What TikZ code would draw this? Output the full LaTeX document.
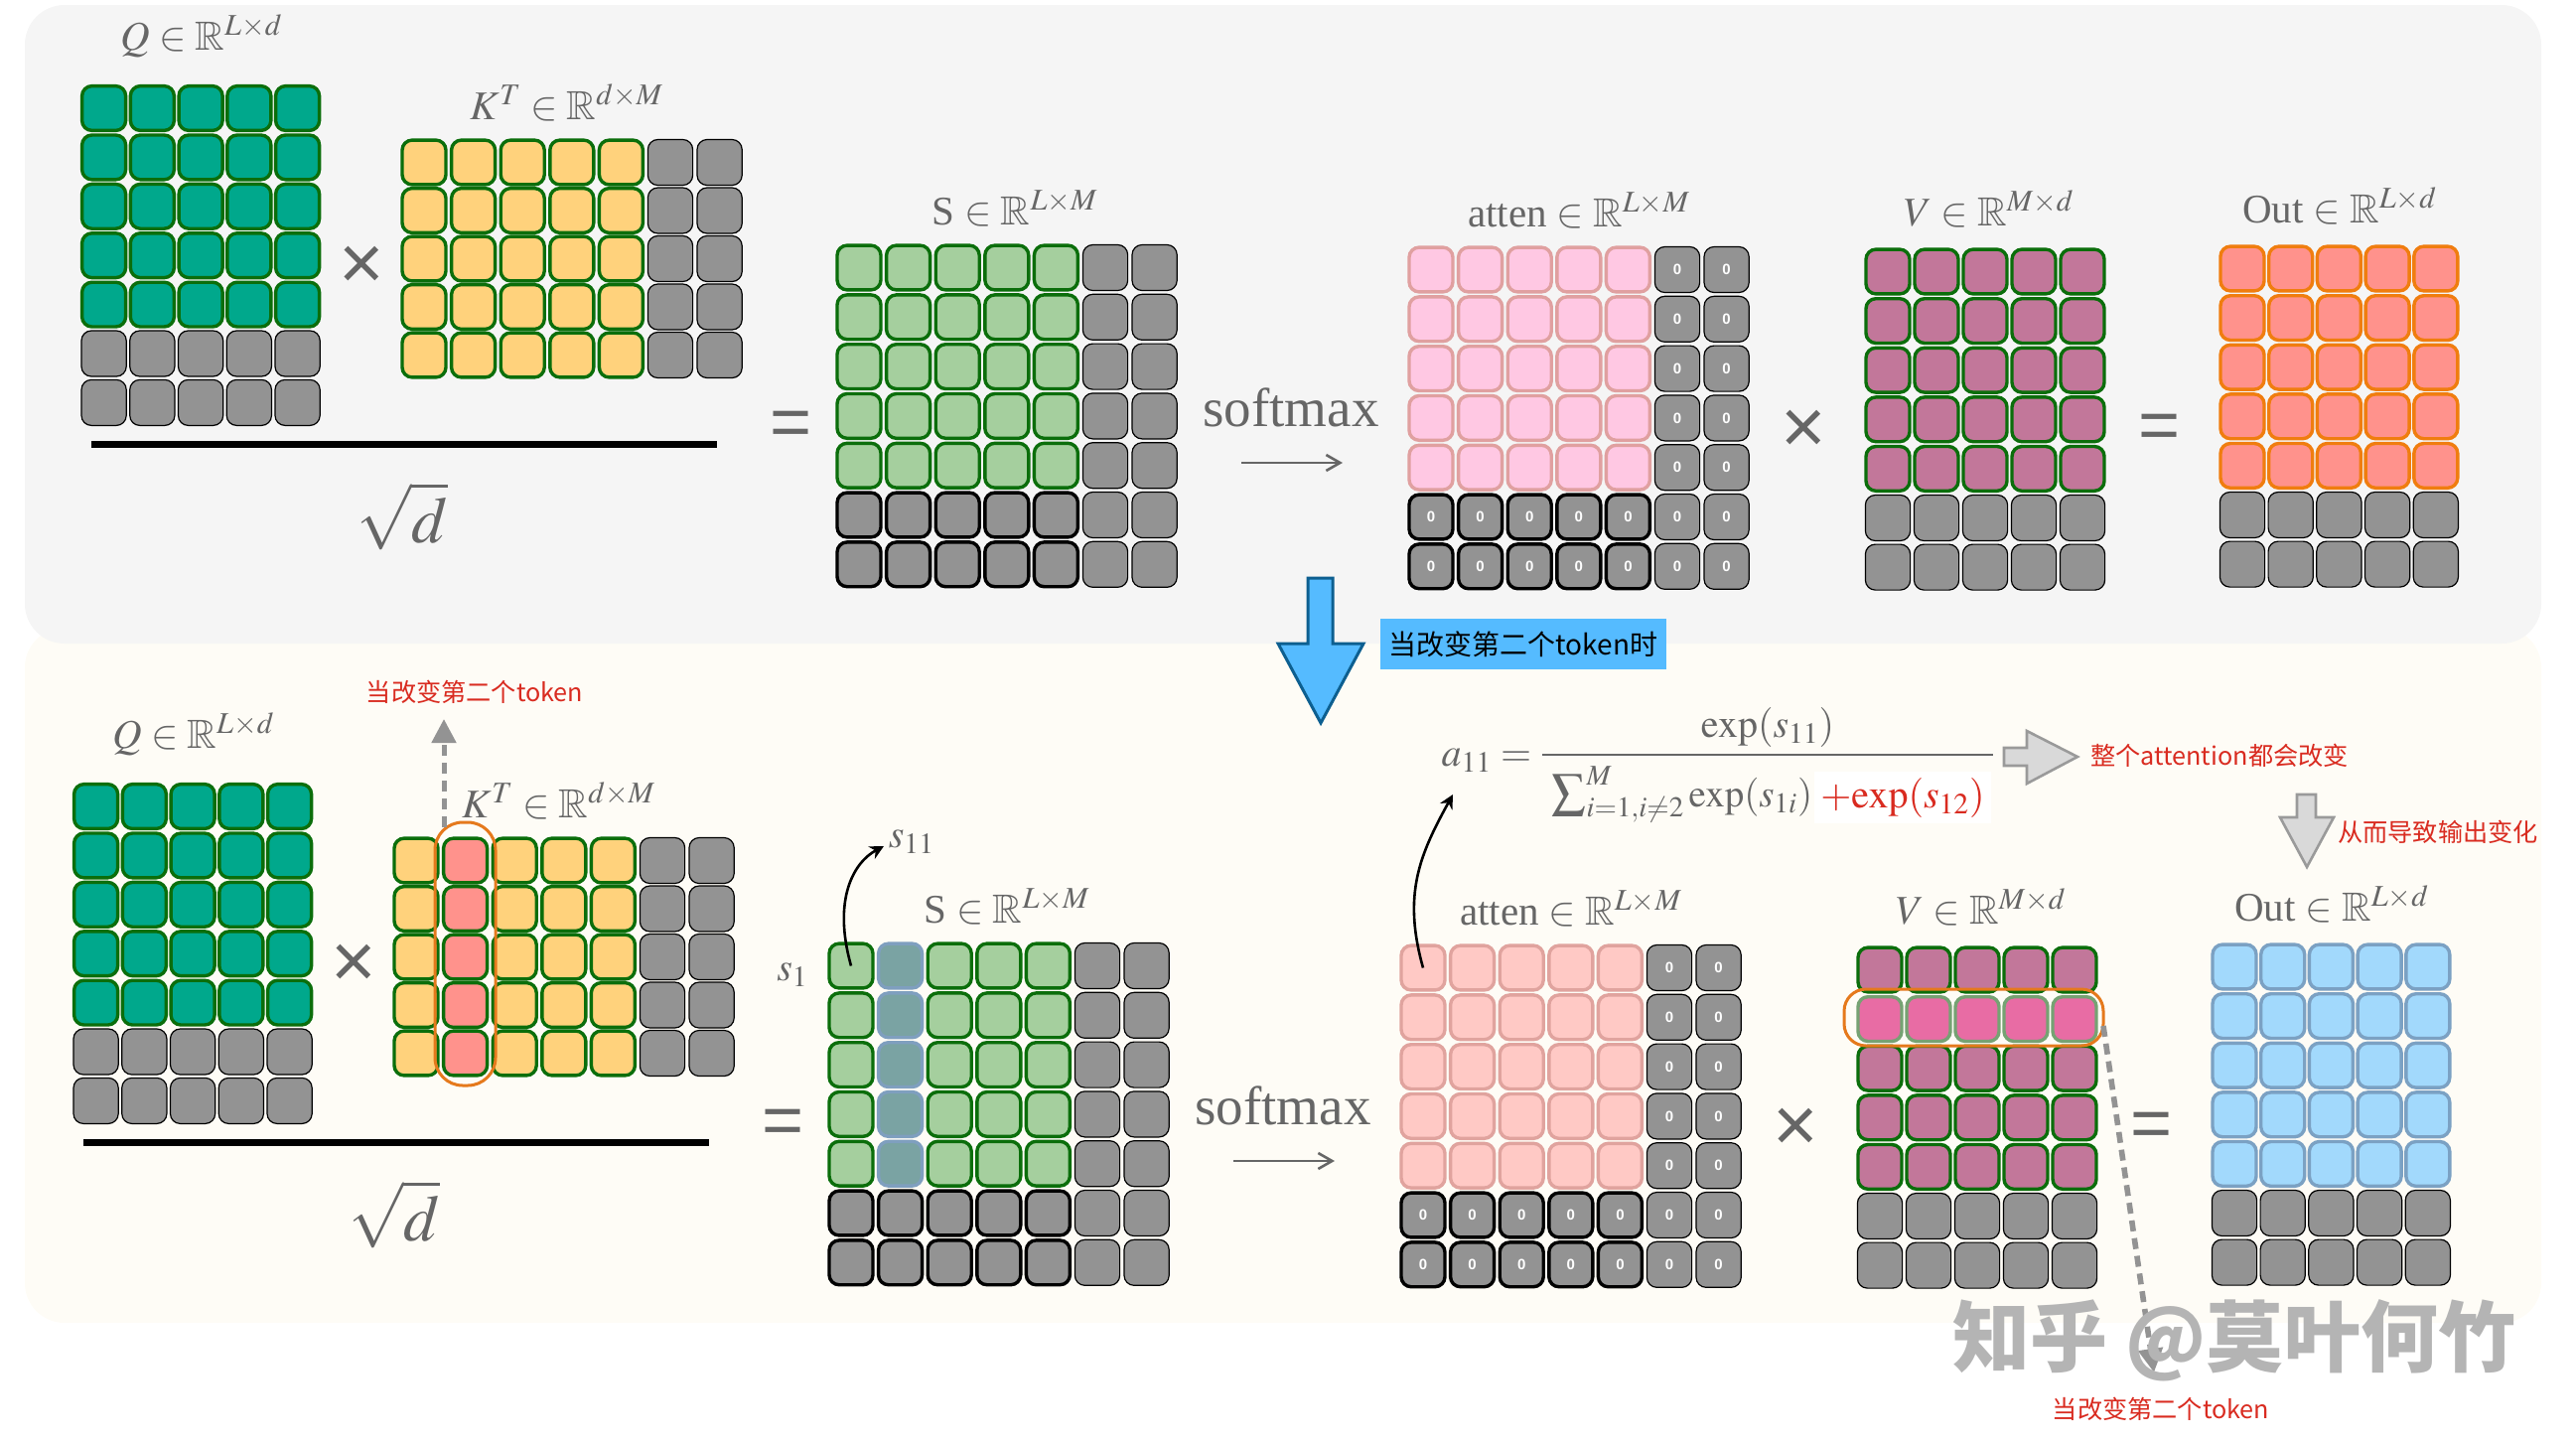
\documentclass[tikz,border=0pt]{standalone}
\usepackage{amssymb}
\usepackage{mathptmx}
\usepackage{fontspec}
\setmainfont{Liberation Serif}
\setsansfont{Liberation Sans}
\newfontfamily\cjk{Noto Sans CJK SC}
\usetikzlibrary{arrows.meta}
\definecolor{labelgray}{HTML}{666666}
\definecolor{paneltop}{HTML}{F5F5F5}
\definecolor{panellow}{HTML}{FEFCF6}
\definecolor{cellgreen}{HTML}{0B6E0B}
\definecolor{cellgray}{HTML}{939393}
\definecolor{redtext}{HTML}{D92B20}
\definecolor{boxorange}{HTML}{E5791C}
\definecolor{skyblue}{HTML}{55BBFF}
\definecolor{deepblue}{HTML}{0D5F90}
\definecolor{tealfill}{HTML}{00A88C}
\definecolor{yellowfill}{HTML}{FFD27C}
\definecolor{salmonfill}{HTML}{FF928C}
\definecolor{leaffill}{HTML}{A5CF9E}
\definecolor{slatefill}{HTML}{7AA3A3}
\definecolor{slateline}{HTML}{7F9FBF}
\definecolor{pinkfill}{HTML}{FFC8E3}
\definecolor{pinkline}{HTML}{E0A0A0}
\definecolor{rosefill}{HTML}{FFC9C5}
\definecolor{roseline}{HTML}{E0A39E}
\definecolor{plumfill}{HTML}{C2779A}
\definecolor{hotfill}{HTML}{E86CA4}
\definecolor{hotline}{HTML}{76A273}
\definecolor{coralline}{HTML}{F07D0F}
\definecolor{icefill}{HTML}{A2D9FC}
\definecolor{iceline}{HTML}{7BA1C3}
\definecolor{palefill}{HTML}{D9D9D9}
\definecolor{paleline}{HTML}{9A9A9A}
\newcommand{\cellblock}[9][]{%
  \foreach \r in {#7} \foreach \c in {#8}
    \node[#9] (#2-\r-\c) at ({#3+(\c-1)*#5},{#4+(\r-1)*#6}) {#1};
}
\tikzset{
  cellbox/.style={rectangle,rounded corners=5pt,inner sep=0pt,minimum width=22pt,minimum height=22.4pt,line width=1.7pt},
  graycell/.style={cellbox,fill=cellgray,draw=black,line width=0.6pt,minimum width=22.6pt,minimum height=23pt},
  zerocell/.style={graycell,text=white,font=\sffamily\bfseries\fontsize{7.5}{8}\selectfont},
  blackcell/.style={zerocell,line width=1.7pt,minimum width=22pt,minimum height=22.4pt},
  tealcell/.style={cellbox,fill=tealfill,draw=cellgreen},
  yellowcell/.style={cellbox,fill=yellowfill,draw=cellgreen},
  redcell/.style={cellbox,fill=salmonfill,draw=cellgreen},
  greencell/.style={cellbox,fill=leaffill,draw=cellgreen},
  slatecell/.style={cellbox,fill=slatefill,draw=slateline},
  pinkcell/.style={cellbox,fill=pinkfill,draw=pinkline},
  rosecell/.style={cellbox,fill=rosefill,draw=roseline},
  plumcell/.style={cellbox,fill=plumfill,draw=cellgreen},
  hotcell/.style={cellbox,fill=hotfill,draw=hotline},
  orangecell/.style={cellbox,fill=salmonfill,draw=coralline},
  bluecell/.style={cellbox,fill=icefill,draw=iceline},
  mathlabel/.style={text=labelgray,inner sep=0pt,font=\fontsize{20.5}{24}\selectfont},
  timessign/.style={text=labelgray,inner sep=0pt,font=\sffamily\fontsize{39}{44}\selectfont},
  equalsign/.style={text=labelgray,inner sep=0pt,font=\sffamily\fontsize{36}{40}\selectfont},
  redlabel/.style={text=redtext,inner sep=0pt,font=\cjk\fontsize{12.6}{15}\selectfont},
  panel/.style={rectangle,rounded corners=20pt,inner sep=0pt,minimum width=1267pt},
  softarrow/.style={draw=labelgray,line width=1.3pt,-{Straight Barb[length=7pt,width=8pt]}},
  dasharrow/.style={draw=cellgray,line width=2.5pt,dash pattern=on 5.5pt off 3.5pt,-{Triangle[length=12pt,width=12pt]}},
  curvearrow/.style={draw=black,line width=1.3pt,-{Stealth[length=7pt,width=7pt]}},
  orangebox/.style={rectangle,draw=boxorange,line width=1.5pt,inner sep=0pt},
  hollowarrow/.style={fill=palefill,draw=paleline,line width=1.3pt}
}
\begin{document}
\begin{tikzpicture}[x=0.5pt,y=-0.5pt]
  \useasboundingbox (0,0) rectangle (2594,1452);
  \node[panel,fill=panellow,minimum height=350pt] (lowpanel) at (1292,982) {};
  \node[panel,fill=paneltop,minimum height=321.5pt] (toppanel) at (1292,326.5) {};

  % upper panel
  \cellblock{q}{104.6}{109}{48.75}{49.4}{1,...,5}{1,...,5}{tealcell}
  \cellblock{q}{104.6}{109}{48.75}{49.4}{6,7}{1,...,5}{graycell}
  \cellblock{k}{427}{163.5}{49.6}{48.5}{1,...,5}{1,...,5}{yellowcell}
  \cellblock{k}{427}{163.5}{49.6}{48.5}{1,...,5}{6,7}{graycell}
  \cellblock{s}{865}{269.5}{49.6}{49.8}{1,...,5}{1,...,5}{greencell}
  \cellblock{s}{865}{269.5}{49.6}{49.8}{1,...,5}{6,7}{graycell}
  \cellblock{s}{865}{269.5}{49.6}{49.8}{6,7}{1,...,5}{blackcell}
  \cellblock{s}{865}{269.5}{49.6}{49.8}{6,7}{6,7}{graycell}
  \cellblock{a}{1441}{271.5}{49.6}{49.8}{1,...,5}{1,...,5}{pinkcell}
  \cellblock[0]{a}{1441}{271.5}{49.6}{49.8}{1,...,7}{6,7}{zerocell}
  \cellblock[0]{a}{1441}{271.5}{49.6}{49.8}{6,7}{1,...,5}{blackcell}
  \cellblock{v}{1901}{273.5}{49}{49.6}{1,...,5}{1,...,5}{plumcell}
  \cellblock{v}{1901}{273.5}{49}{49.6}{6,7}{1,...,5}{graycell}
  \cellblock{o}{2258}{270.5}{48.7}{49.6}{1,...,5}{1,...,5}{orangecell}
  \cellblock{o}{2258}{270.5}{48.7}{49.6}{6,7}{1,...,5}{graycell}

  \node[mathlabel] (qlab) at (203,36) {$Q\in\mathbb{R}^{L\times d}$};
  \node[mathlabel] (klab) at (571,103) {$K^{T}\in\mathbb{R}^{d\times M}$};
  \node[mathlabel] (slab) at (1022,210) {S $\in\mathbb{R}^{L\times M}$};
  \node[mathlabel] (alab) at (1590,212) {atten $\in\mathbb{R}^{L\times M}$};
  \node[mathlabel] (vlab) at (2003,210) {$V\in\mathbb{R}^{M\times d}$};
  \node[mathlabel] (olab) at (2356,207) {Out $\in\mathbb{R}^{L\times d}$};
  \node[timessign] (times1) at (364,270) {×};
  \node[equalsign] (eq1) at (797,432) {=};
  \node[timessign] (times2) at (1816,435) {×};
  \node[equalsign] (eq2) at (2174,435) {=};
  \node[mathlabel,font=\fontsize{27.5}{30}\selectfont] (soft) at (1300,410) {softmax};
  \coordinate (softl) at (1250,466);
  \coordinate (softr) at (1352,466);
  \draw[softarrow] (softl) -- (softr);
  \coordinate (barl) at (92,447);
  \coordinate (barr) at (722,447);
  \draw[black,line width=3.5pt] (barl) -- (barr);
  \node[mathlabel,font=\fontsize{33}{38}\selectfont] (root) at (405,520) {$\sqrt{d}$};

  % lower panel
  \begin{scope}[shift={(-8,703)}]
    \cellblock{qb}{104.6}{109}{48.75}{49.4}{1,...,5}{1,...,5}{tealcell}
    \cellblock{qb}{104.6}{109}{48.75}{49.4}{6,7}{1,...,5}{graycell}
    \cellblock{kb}{427}{163.5}{49.6}{48.5}{1,...,5}{1,3,4,5}{yellowcell}
    \cellblock{kb}{427}{163.5}{49.6}{48.5}{1,...,5}{2}{redcell}
    \cellblock{kb}{427}{163.5}{49.6}{48.5}{1,...,5}{6,7}{graycell}
    \cellblock{sb}{865}{269.5}{49.6}{49.8}{1,...,5}{1,3,4,5}{greencell}
    \cellblock{sb}{865}{269.5}{49.6}{49.8}{1,...,5}{2}{slatecell}
    \cellblock{sb}{865}{269.5}{49.6}{49.8}{1,...,5}{6,7}{graycell}
    \cellblock{sb}{865}{269.5}{49.6}{49.8}{6,7}{1,...,5}{blackcell}
    \cellblock{sb}{865}{269.5}{49.6}{49.8}{6,7}{6,7}{graycell}
    \cellblock{ab}{1441}{271.5}{49.6}{49.8}{1,...,5}{1,...,5}{rosecell}
    \cellblock[0]{ab}{1441}{271.5}{49.6}{49.8}{1,...,7}{6,7}{zerocell}
    \cellblock[0]{ab}{1441}{271.5}{49.6}{49.8}{6,7}{1,...,5}{blackcell}
    \cellblock{vb}{1901}{273.5}{49}{49.6}{1,3,4,5}{1,...,5}{plumcell}
    \cellblock{vb}{1901}{273.5}{49}{49.6}{2}{1,...,5}{hotcell}
    \cellblock{vb}{1901}{273.5}{49}{49.6}{6,7}{1,...,5}{graycell}
    \cellblock{ob}{2258}{270.5}{48.7}{49.6}{1,...,5}{1,...,5}{bluecell}
    \cellblock{ob}{2258}{270.5}{48.7}{49.6}{6,7}{1,...,5}{graycell}

    \node[mathlabel] (qblab) at (203,36) {$Q\in\mathbb{R}^{L\times d}$};
    \node[mathlabel] (kblab) at (571,103) {$K^{T}\in\mathbb{R}^{d\times M}$};
    \node[mathlabel] (sblab) at (1022,210) {S $\in\mathbb{R}^{L\times M}$};
    \node[mathlabel] (ablab) at (1590,212) {atten $\in\mathbb{R}^{L\times M}$};
    \node[mathlabel] (vblab) at (2003,210) {$V\in\mathbb{R}^{M\times d}$};
    \node[mathlabel] (oblab) at (2356,207) {Out $\in\mathbb{R}^{L\times d}$};
    \node[timessign] (times3) at (364,270) {×};
    \node[equalsign] (eq3) at (797,432) {=};
    \node[timessign] (times4) at (1816,435) {×};
    \node[equalsign] (eq4) at (2174,435) {=};
    \node[mathlabel,font=\fontsize{27.5}{30}\selectfont] (softb) at (1300,410) {softmax};
    \coordinate (softbl) at (1250,466);
    \coordinate (softbr) at (1352,466);
    \draw[softarrow] (softbl) -- (softbr);
    \coordinate (barbl) at (92,447);
    \coordinate (barbr) at (722,447);
    \draw[black,line width=3.5pt] (barbl) -- (barbr);
    \node[mathlabel,font=\fontsize{33}{38}\selectfont] (rootb) at (405,520) {$\sqrt{d}$};
  \end{scope}

  % change marks
  \node[orangebox,rounded corners=14pt,minimum width=30.5pt,minimum height=132.5pt] (kcol) at (468.5,960.5) {};
  \node[orangebox,rounded corners=11pt,minimum width=130.5pt,minimum height=28.5pt] (vrow) at (1987.5,1024.5) {};
  \coordinate (kfoot) at (447,833);
  \coordinate (ktip) at (447,724);
  \draw[dasharrow] (kfoot) -- (ktip);
  \coordinate (vfoot) at (2118,1033);
  \coordinate (vtip) at (2169,1382);
  \draw[dasharrow,line width=2.8pt] (vfoot) -- (vtip);
  \node[redlabel] (up1) at (478,697) {当改变第二个token};
  \node[redlabel] (up2) at (2176,1419) {当改变第二个token};

  % change arrow
  \draw[fill=skyblue,draw=deepblue,line width=1.5pt] (1317,582) -- (1342,582) -- (1342,648) -- (1373,648) -- (1330,728) -- (1287,648) -- (1317,648) -- cycle;
  \node[fill=skyblue,inner sep=0pt,minimum width=144pt,minimum height=25.5pt,font=\cjk\fontsize{14}{16}\selectfont] (bluelab) at (1534,648.5) {当改变第二个token时};

  % formula
  \node[mathlabel,font=\fontsize{20}{24}\selectfont] (a11) at (1497,766) {$a_{11}=$};
  \node[mathlabel,font=\fontsize{20}{24}\selectfont] (num) at (1780,732) {$\mathrm{exp}(s_{11})$};
  \coordinate (fracl) at (1553,760);
  \coordinate (fracr) at (2007,760);
  \draw[labelgray,line width=1.3pt] (fracl) -- (fracr);
  \node[mathlabel,font=\fontsize{19.5}{24}\selectfont] (den) at (1694,800) {$\mathop{\scalebox{1.25}{$\sum$}}\nolimits_{i=1,i\neq 2}^{M}\mathrm{exp}(s_{1i})$};
  \node[mathlabel,text=redtext,fill=white,inner sep=3pt,font=\fontsize{20}{24}\selectfont] (dred) at (1916,803) {$+\mathrm{exp}(s_{12})$};
  \node[mathlabel,font=\fontsize{20}{24}\selectfont] (s11) at (918,848) {$s_{11}$};
  \node[mathlabel,font=\fontsize{20}{24}\selectfont] (s1) at (798,982) {$s_{1}$};
  \coordinate (s11tip) at (890,852);
  \coordinate (a11tip) at (1463,800);
  \draw[curvearrow] (sb-1-1.center) .. controls (838,905) and (860,868) .. (s11tip);
  \draw[curvearrow] (ab-1-1.center) .. controls (1412,900) and (1430,860) .. (a11tip);

  \draw[hollowarrow] (2018,753) -- (2041,753) -- (2041,736) -- (2092,762) -- (2041,789) -- (2041,771) -- (2018,771) -- cycle;
  \node[redlabel] (allchange) at (2235,761) {整个attention都会改变};
  \draw[hollowarrow] (2313,800) -- (2332,800) -- (2332,823) -- (2350,823) -- (2323,873) -- (2296,823) -- (2313,823) -- cycle;
  \node[redlabel] (outchange) at (2455,838) {从而导致输出变化};

  \node[text=cellgray!70,inner sep=0pt,font=\cjk\bfseries\fontsize{39}{42}\selectfont] (mark) at (2250,1350) {知乎 @莫叶何竹};
\end{tikzpicture}
\end{document}
